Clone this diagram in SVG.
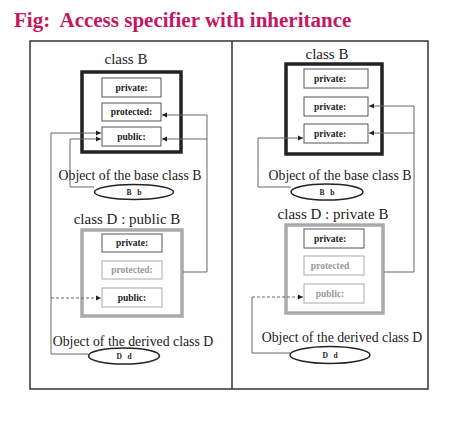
<svg xmlns="http://www.w3.org/2000/svg" width="474" height="431" viewBox="0 0 474 431">
<defs>
<marker id="ah" markerWidth="6" markerHeight="6" refX="5" refY="3" orient="auto" markerUnits="userSpaceOnUse">
<path d="M0,0.5 L5,3 L0,5.5 Z" fill="#222"/>
</marker>
<style>
.title{font-family:"Liberation Serif",serif;font-weight:bold;font-size:21px;fill:#c5175f}
.lbl{font-family:"Liberation Serif",serif;font-size:15px;fill:#222;text-anchor:middle}
.obj{font-family:"Liberation Serif",serif;font-size:13.8px;fill:#222;text-anchor:middle}
.bx{font-family:"Liberation Serif",serif;font-weight:bold;font-size:9.5px;fill:#222;text-anchor:middle}
.bxg{font-family:"Liberation Serif",serif;font-weight:bold;font-size:9.5px;fill:#999;text-anchor:middle}
.ell{font-family:"Liberation Serif",serif;font-weight:bold;font-size:7.5px;fill:#222;text-anchor:middle}
.frame{fill:none;stroke:#333;stroke-width:1.5}
.cls{fill:#fff;stroke:#222;stroke-width:3.5}
.clsg{fill:#fff;stroke:#aaa;stroke-width:3.5}
.box{fill:#fff;stroke:#555;stroke-width:1}
.boxg{fill:#fff;stroke:#aaa;stroke-width:1}
.con{fill:none;stroke:#666;stroke-width:1}
.dash{fill:none;stroke:#666;stroke-width:1;stroke-dasharray:3,2}
.ov{fill:#fff;stroke:#222;stroke-width:1.5}
</style>
</defs>
<rect width="474" height="431" fill="#fff"/>
<text class="title" x="14" y="27" xml:space="preserve">Fig:  Access specifier with inheritance</text>
<g id="frame">
<rect class="frame" x="30" y="41" width="398" height="348"/>
<line class="frame" x1="232" y1="41" x2="232" y2="389"/>
</g>
<g id="left-classB">
<text class="lbl" x="126" y="64">class B</text>
<rect class="cls" x="82" y="72" width="99" height="80"/>
<rect class="box" x="102" y="78" width="59" height="19"/>
<text class="bx" x="131.5" y="91">private:</text>
<rect class="box" x="102" y="103" width="59" height="18"/>
<text class="bx" x="131.5" y="115">protected:</text>
<rect class="box" x="102" y="127" width="59" height="19"/>
<text class="bx" x="131.5" y="140">public:</text>
</g>
<g id="left-objB">
<text class="obj" x="130" y="180">Object of the base class B</text>
<ellipse class="ov" cx="134" cy="192" rx="39.5" ry="7.5"/>
<text class="ell" x="134" y="195" xml:space="preserve">B   b</text>
</g>
<g id="left-classD">
<text class="lbl" x="127" y="224">class D : public B</text>
<rect class="clsg" x="82" y="230" width="100" height="86"/>
<rect class="box" x="102" y="234" width="60" height="18"/>
<text class="bx" x="132" y="246">private:</text>
<rect class="boxg" x="102" y="261" width="60" height="18"/>
<text class="bxg" x="132" y="273">protected:</text>
<rect class="boxg" x="102" y="288" width="60" height="19"/>
<text class="bx" x="132" y="301">public:</text>
</g>
<g id="left-objD">
<text class="obj" x="133" y="346">Object of the derived class D</text>
<ellipse class="ov" cx="124" cy="356" rx="35.5" ry="8"/>
<text class="ell" x="124" y="359" xml:space="preserve">D   d</text>
</g>
<g id="right-classB">
<text class="lbl" x="327" y="59">class B</text>
<rect class="cls" x="286" y="64" width="96" height="90"/>
<rect class="box" x="304" y="69" width="64" height="19"/>
<text class="bx" x="330" y="82">private:</text>
<rect class="box" x="304" y="97" width="64" height="19"/>
<text class="bx" x="330" y="110">private:</text>
<rect class="box" x="304" y="124" width="64" height="19"/>
<text class="bx" x="330" y="137">private:</text>
</g>
<g id="right-objB">
<text class="obj" x="340" y="180">Object of the base class B</text>
<ellipse class="ov" cx="327" cy="192" rx="36" ry="8"/>
<text class="ell" x="327" y="195" xml:space="preserve">B   b</text>
</g>
<g id="right-classD">
<text class="lbl" x="333" y="219">class D : private B</text>
<rect class="clsg" x="286" y="225" width="97" height="88"/>
<rect class="box" x="304" y="229" width="60" height="19"/>
<text class="bx" x="330" y="242">private:</text>
<rect class="boxg" x="304" y="256" width="60" height="19"/>
<text class="bxg" x="330" y="269">protected</text>
<rect class="boxg" x="304" y="284" width="60" height="19"/>
<text class="bxg" x="330" y="297">public:</text>
</g>
<g id="right-objD">
<text class="obj" x="342" y="342">Object of the derived class D</text>
<ellipse class="ov" cx="330" cy="355" rx="40" ry="8.5"/>
<text class="ell" x="330" y="358" xml:space="preserve">D   d</text>
</g>
<g id="connectors">
<path class="con" d="M183,272 H207 V115 H162" marker-end="url(#ah)"/>
<path class="con" d="M207,139 H162" marker-end="url(#ah)"/>
<path class="con" d="M88,354 H51 V133 H101" marker-end="url(#ah)"/>
<path class="con" d="M94,187 H70 V139 H101" marker-end="url(#ah)"/>
<path class="dash" d="M51,298 H101" marker-end="url(#ah)"/>
<path class="con" d="M384,272 H414 V106 H369" marker-end="url(#ah)"/>
<path class="con" d="M414,133 H369" marker-end="url(#ah)"/>
<path class="con" d="M291,187 H258 V138 H303" marker-end="url(#ah)"/>
<path class="con" d="M290,353 H252 V297"/>
<path class="dash" d="M252,297 H303" marker-end="url(#ah)"/>
</g>
</svg>
